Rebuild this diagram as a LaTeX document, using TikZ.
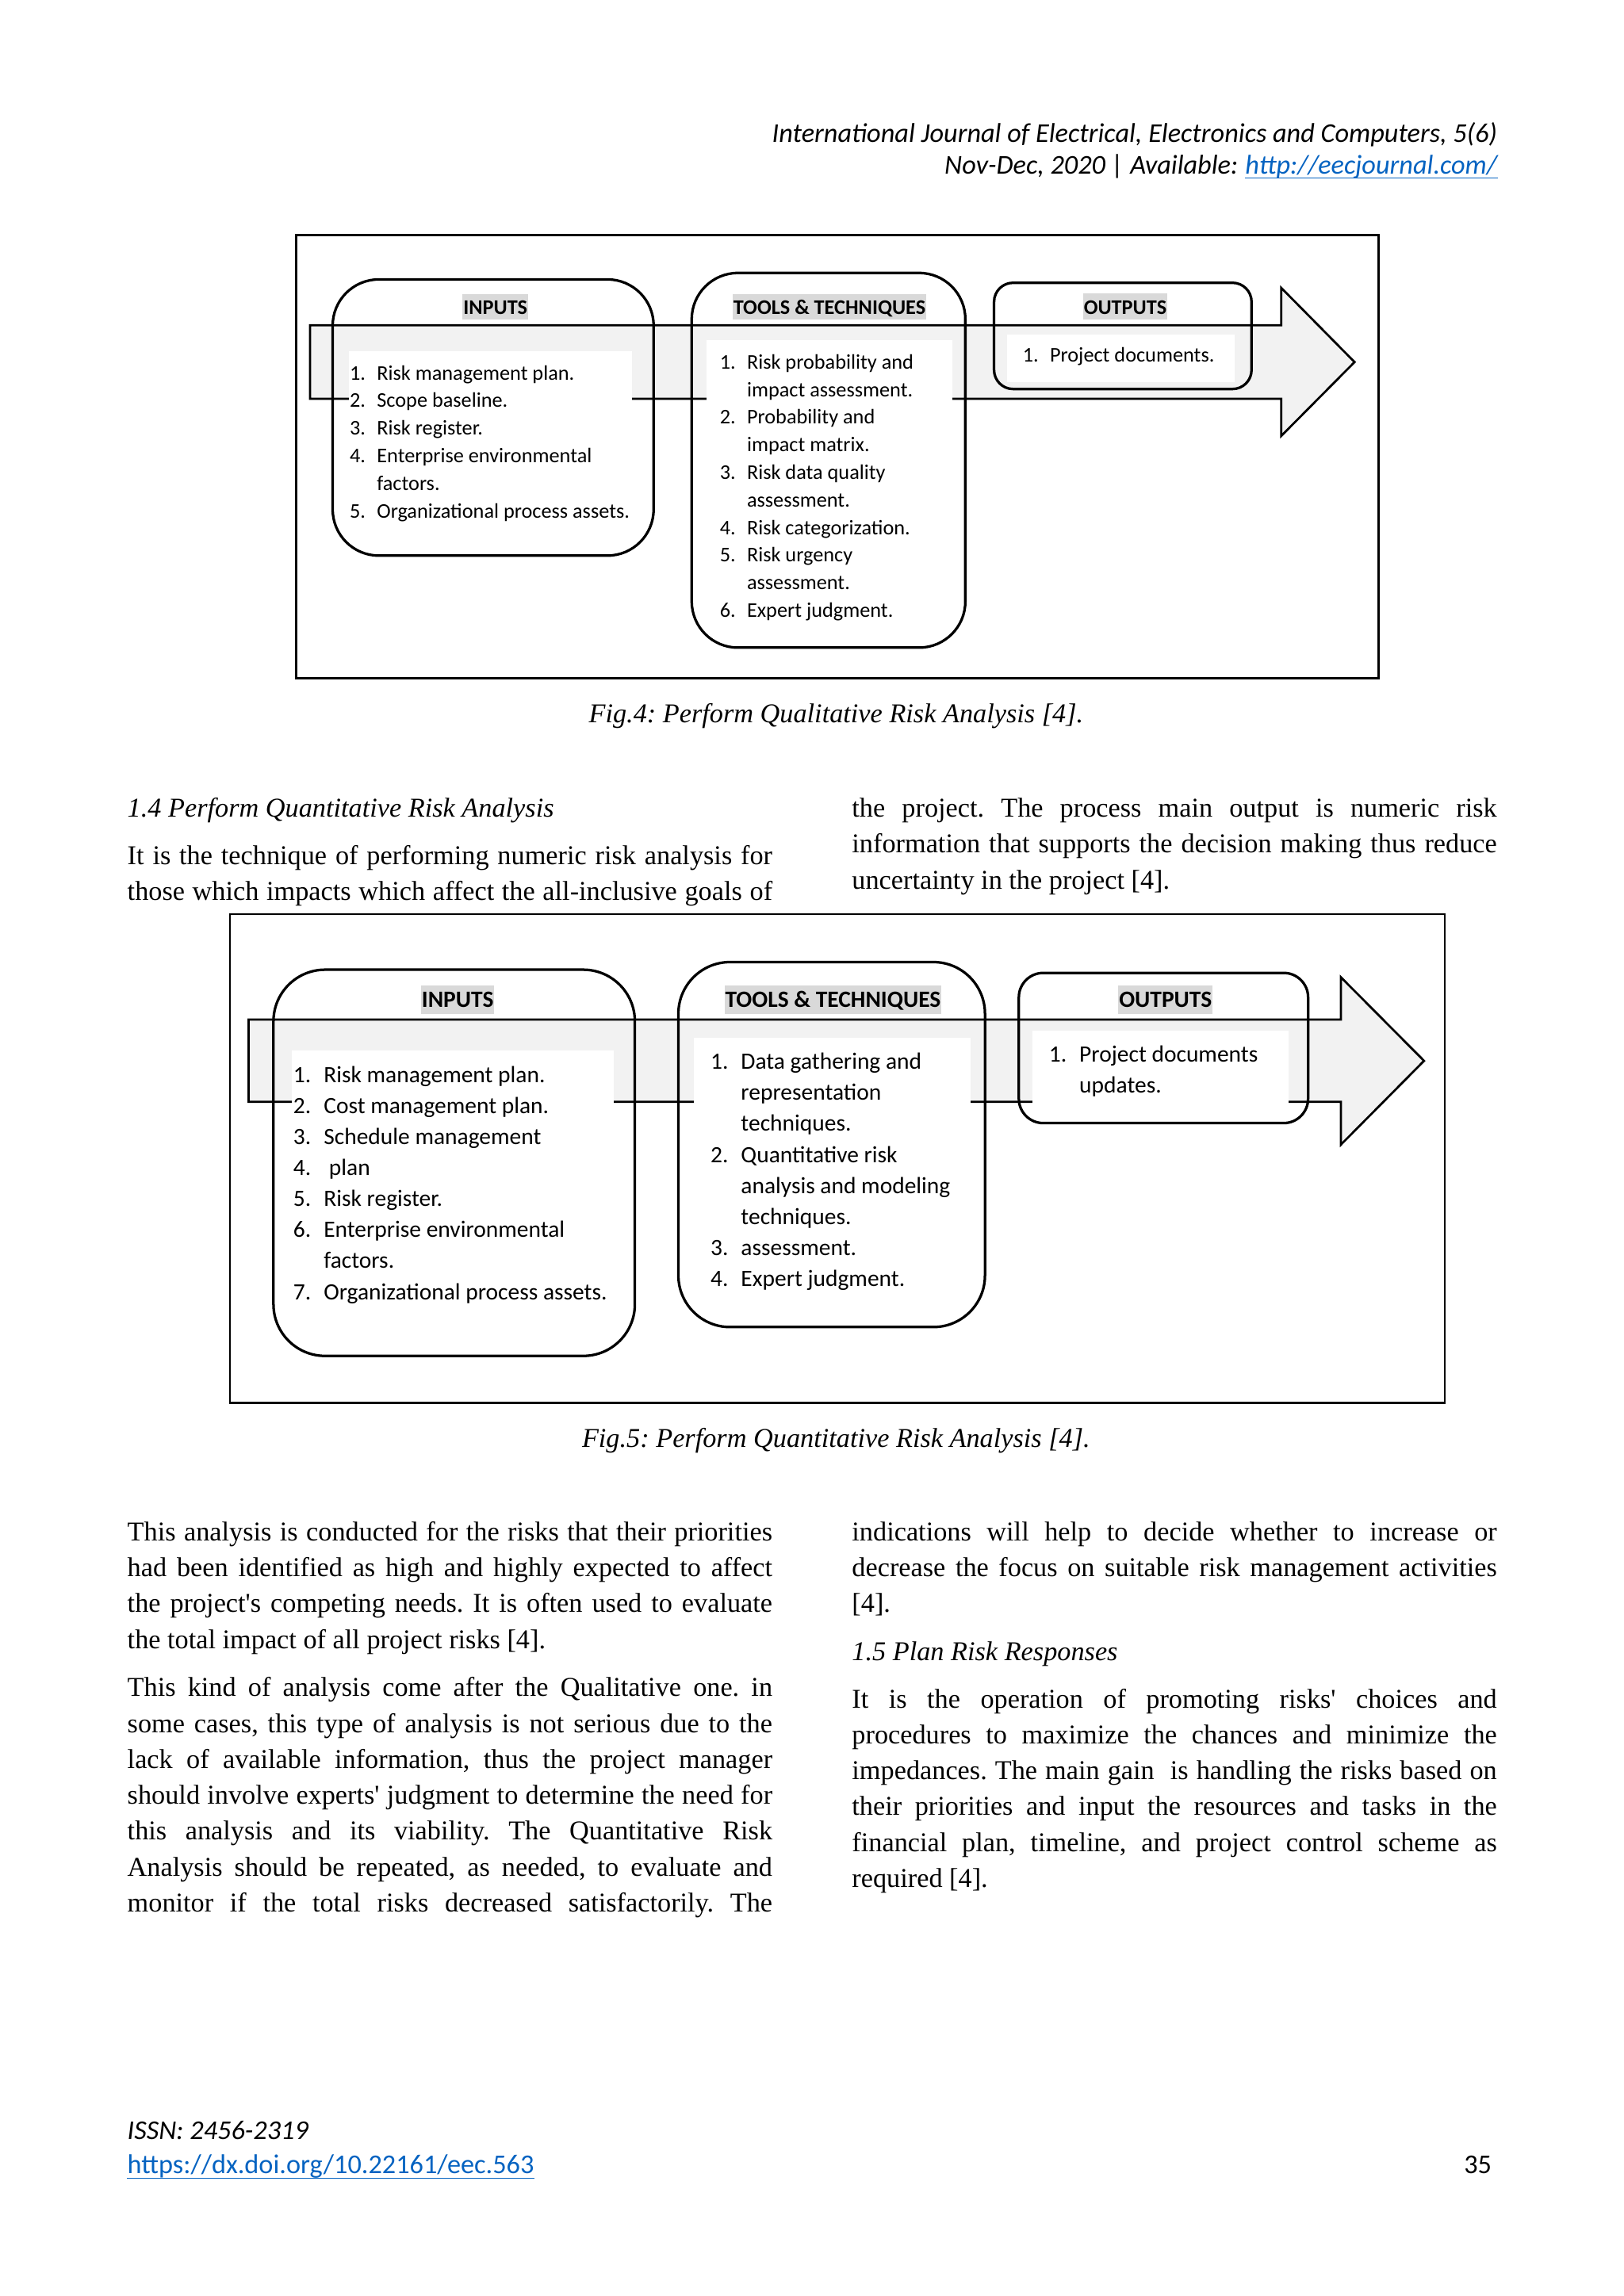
\documentclass[tikz,border=0pt]{standalone}
\usepackage{fontspec}
\usepackage{xcolor}
\setmainfont{Liberation Serif}
\newfontfamily\calibri{Carlito}
\usetikzlibrary{positioning}
\frenchspacing

\definecolor{resalte}{HTML}{D9D9D9}
\definecolor{flechagris}{HTML}{F2F2F2}
\definecolor{enlace}{HTML}{0563C1}

\newlength\numw
\newlength\colw
\setlength\colw{237.3pt}
% linea justificada de columna
\newcommand\jl[1]{\makebox[\colw][s]{#1}}
% numero de lista
\newcommand\nm[1]{\makebox[\numw][l]{#1}}

\begin{document}
\begin{tikzpicture}[x=0.018953cm,y=-0.018953cm,
  marco/.style={line width=0.7pt},
  flecha/.style={fill=flechagris,draw,line width=0.8pt},
  caja/.style={draw,line width=0.95pt},
  titA/.style={fill=resalte,inner xsep=0.3pt,inner ysep=0pt,text height=7.6pt,text depth=1.9pt,font=\calibri\bfseries\fontsize{7.67pt}{9pt}\selectfont},
  titB/.style={fill=resalte,inner xsep=0.3pt,inner ysep=0pt,text height=8.1pt,text depth=2.3pt,font=\calibri\bfseries\fontsize{8.6pt}{10pt}\selectfont},
  listaA/.style={anchor=base west,align=left,inner sep=0pt,font=\calibri\fontsize{7.67pt}{10.16pt}\selectfont\setlength\numw{10pt}},
  listaB/.style={anchor=base west,align=left,inner sep=0pt,font=\calibri\fontsize{8.6pt}{11.42pt}\selectfont\setlength\numw{11.2pt}},
  texto/.style={anchor=base west,align=left,inner sep=0pt,font=\fontsize{10pt}{13.2pt}\selectfont},
  seccion/.style={anchor=base west,inner sep=0pt,font=\itshape\fontsize{10pt}{12pt}\selectfont},
  leyenda/.style={anchor=base,inner sep=0pt,font=\itshape\fontsize{10pt}{12pt}\selectfont},
  cabecera/.style={inner sep=0pt,font=\calibri\itshape\fontsize{10pt}{12pt}\selectfont},
  pie/.style={inner sep=0pt,font=\calibri\fontsize{10pt}{12pt}\selectfont}]
  % Pagina
  \useasboundingbox[fill=white] (0,0) rectangle (1108,1567);

  % Cabecera
  \node[cabecera,anchor=base east] (revista) at (1022,97) {International Journal of Electrical, Electronics and Computers, 5(6)};
  \node[cabecera,anchor=base east,text=enlace] (webrev) at (1022,118.7) {http://eecjournal.com/};
  \node[cabecera,anchor=base east] (fecha) at ([xshift=-2.3pt]webrev.base west) {Nov-Dec, 2020 | Available:};
  \draw[enlace,line width=0.5pt] ([yshift=-1.5pt]webrev.base west) -- ([yshift=-1.5pt]webrev.base east);

  % ---------------- Fig. 4 ----------------
  % Marco
  \draw[marco] (202,160.5) rectangle (940.7,462.8);
  % Flecha
  \draw[flecha] (211.5,222) -- (874.3,222) -- (874.3,196.5) -- (924.3,247.1)
    -- (874.3,297.5) -- (874.3,272.2) -- (211.5,272.2) -- cycle;
  % Fondos blancos del texto
  \fill[white] (238.3,239.5) rectangle (431.5,355);
  \fill[white] (482,232.2) rectangle (650,420);
  \fill[white] (687.3,228.2) rectangle (842.2,260.6);
  % Cajas redondeadas
  \draw[caja,rounded corners=17pt] (227,190.7) rectangle (446,379.2);
  \draw[caja,rounded corners=17pt] (472,186.3) rectangle (658.7,442);
  \draw[caja,rounded corners=7pt] (678.3,193) rectangle (854,265.5);
  % Titulos
  \node[titA] (entradasA) at (338,209.4) {INPUTS};
  \node[titA] (herramA) at (566,209.4) {TOOLS \& TECHNIQUES};
  \node[titA] (salidasA) at (767.8,209) {OUTPUTS};
  % Listas (base = ultima linea)
  \node[listaA] (listaentA) at (238.3,353.4) {\nm{1.}Risk management plan.\\
    \nm{2.}Scope baseline.\\ \nm{3.}Risk register.\\
    \nm{4.}Enterprise environmental\\ \nm{}factors.\\
    \nm{5.}Organizational process assets.};
  \node[listaA] (listaherA) at (490.8,421.3) {\nm{1.}Risk probability and\\
    \nm{}impact assessment.\\ \nm{2.}Probability and\\ \nm{}impact matrix.\\
    \nm{3.}Risk data quality\\ \nm{}assessment.\\ \nm{4.}Risk categorization.\\
    \nm{5.}Risk urgency\\ \nm{}assessment.\\ \nm{6.}Expert judgment.};
  \node[listaA] (listasalA) at (697.5,246.9) {\nm{1.}Project documents.};
  % Leyenda
  \node[leyenda] (leyA) at (570.5,493) {Fig.4: Perform Qualitative Risk Analysis [4].};

  % Texto 1.4
  \node[seccion] (sec14) at (86.6,557.7) {1.4 Perform Quantitative Risk Analysis};
  \node[texto] (par14a) at (86.6,614.4) {\jl{It is the technique of performing numeric risk analysis for}\\
    \jl{those which impacts which affect the all-inclusive goals of}};
  \node[texto] (par14b) at (581,606.6) {\jl{the project. The process main output is numeric risk}\\
    \jl{information that supports the decision making thus reduce}\\
    uncertainty in the project [4].};

  % ---------------- Fig. 5 ----------------
  % Marco
  \draw[marco] (157,623.8) rectangle (986,957.5);
  % Flecha
  \draw[flecha] (169.6,695.8) -- (915,695.8) -- (915,667) -- (971.7,724)
    -- (915,781.2) -- (915,752) -- (169.6,752) -- cycle;
  % Fondos blancos del texto
  \fill[white] (199.1,716.7) rectangle (419,890);
  \fill[white] (473.2,708.5) rectangle (662.3,880);
  \fill[white] (704.7,703.5) rectangle (879.3,756);
  % Cajas redondeadas
  \draw[caja,rounded corners=19pt] (186.6,661.8) rectangle (433.2,925.4);
  \draw[caja,rounded corners=19pt] (462.9,656.6) rectangle (672.1,905.7);
  \draw[caja,rounded corners=9pt] (695.2,664) rectangle (892.6,766.5);
  % Titulos
  \node[titB] (entradasB) at (312.3,682.3) {INPUTS};
  \node[titB] (herramB) at (568.4,682.3) {TOOLS \& TECHNIQUES};
  \node[titB] (salidasB) at (795.3,682.3) {OUTPUTS};
  % Listas (base = ultima linea)
  \node[listaB] (listaentB) at (199.8,886.9) {\nm{1.}Risk management plan.\\
    \nm{2.}Cost management plan.\\ \nm{3.}Schedule management\\
    \nm{4.}\ plan\\ \nm{5.}Risk register.\\
    \nm{6.}Enterprise environmental\\ \nm{}factors.\\
    \nm{7.}Organizational process assets.};
  \node[listaB] (listaherB) at (484.5,878) {\nm{1.}Data gathering and\\
    \nm{}representation\\ \nm{}techniques.\\ \nm{2.}Quantitative risk\\
    \nm{}analysis and modeling\\ \nm{}techniques.\\ \nm{3.}assessment.\\
    \nm{4.}Expert judgment.};
  \node[listaB] (listasalB) at (715.4,745.8) {\nm{1.}Project documents\\ \nm{}updates.};
  % Leyenda
  \node[leyenda] (leyB) at (570.5,988) {Fig.5: Perform Quantitative Risk Analysis [4].};

  % Texto inferior, columna izquierda
  \node[texto] (parA) at (86.6,1125) {\jl{This analysis is conducted for the risks that their priorities}\\
    \jl{had been identified as high and highly expected to affect}\\
    \jl{the project\textquotesingle s competing needs. It is often used to evaluate}\\
    the total impact of all project risks [4].};
  \node[texto] (parB) at (86.6,1304.7) {\jl{This kind of analysis come after the Qualitative one. in}\\
    \jl{some cases, this type of analysis is not serious due to the}\\
    \jl{lack of available information, thus the project manager}\\
    \jl{should involve experts\textquotesingle{} judgment to determine the need for}\\
    \jl{this analysis and its viability. The Quantitative Risk}\\
    \jl{Analysis should be repeated, as needed, to evaluate and}\\
    \jl{monitor if the total risks decreased satisfactorily. The}};
  % Texto inferior, columna derecha
  \node[texto] (parC) at (581,1100.4) {\jl{indications will help to decide whether to increase or}\\
    \jl{decrease the focus on suitable risk management activities}\\
    {[4].}};
  \node[seccion] (sec15) at (581,1133.3) {1.5 Plan Risk Responses};
  \node[texto] (parD) at (581,1288) {\jl{It is the operation of promoting risks\textquotesingle{} choices and}\\
    \jl{procedures to maximize the chances and minimize the}\\
    \jl{impedances. The main gain\ \ is handling the risks based on}\\
    \jl{their priorities and input the resources and tasks in the}\\
    \jl{financial plan, timeline, and project control scheme as}\\
    required [4].};

  % Pie de pagina
  \node[cabecera,anchor=base west] (issn) at (86.6,1460) {ISSN: 2456-2319};
  \node[pie,anchor=base west,text=enlace] (doi) at (86.6,1483.6) {https://dx.doi.org/10.22161/eec.563};
  \draw[enlace,line width=0.5pt] ([yshift=-1.6pt]doi.base west) -- ([yshift=-1.6pt]doi.base east);
  \node[pie,anchor=base east] (pagina) at (1018.2,1483.3) {35};
\end{tikzpicture}
\end{document}
